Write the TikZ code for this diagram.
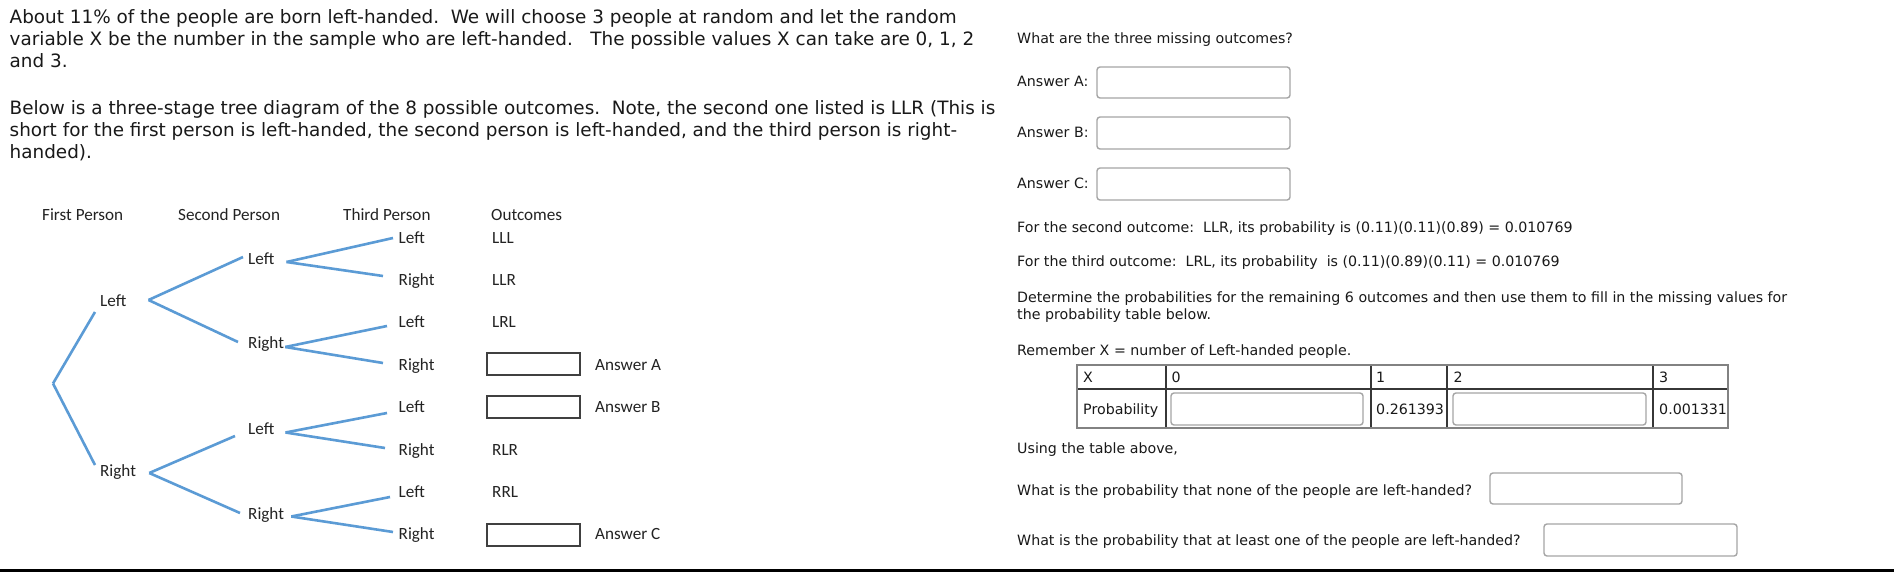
\documentclass[tikz,border=0pt]{standalone}
\usepackage{fontspec}
\setmainfont{DejaVu Sans}
\newfontfamily\treefont{Carlito}
\newfontfamily\webfont{DejaVu Sans}
\usetikzlibrary{calc}
\definecolor{branchblue}{RGB}{91,155,213}
\definecolor{txt}{RGB}{25,25,25}
\definecolor{treetxt}{RGB}{35,35,35}
\definecolor{fieldgray}{RGB}{165,165,165}
\definecolor{tabout}{RGB}{130,130,130}
\definecolor{tabin}{RGB}{55,55,55}
\newlength\calw
\newcommand\fitfont[4]{\settowidth\calw{#2\fontsize{10pt}{12pt}\selectfont #4}\pgfmathsetmacro#1{10*#3/\calw}}
\newcommand\txtLineA{About 11\% of the people are born left-handed.\ \ We will choose 3 people at random and let the random}
\newcommand\txtDet{Determine the probabilities for the remaining 6 outcomes and then use them to fill in the missing values for}
\begin{document}
\fitfont\szTop{\rmfamily}{947}{\txtLineA}%
\fitfont\szWeb{\webfont}{770}{\txtDet}%
\fitfont\szTree{\treefont}{81}{First Person}%
\begin{tikzpicture}[x=1pt,y=-1pt]
\tikzset{
  toptext/.style={anchor=base west, inner sep=0pt, text=txt, font=\fontsize{\szTop pt}{\szTop pt}\selectfont},
  web/.style={anchor=base west, inner sep=0pt, text=txt, font=\webfont\fontsize{\szWeb pt}{\szWeb pt}\selectfont},
  tree/.style={anchor=base west, inner sep=0pt, text=treetxt, font=\treefont\fontsize{\szTree pt}{\szTree pt}\selectfont},
  branch/.style={draw=branchblue, line width=2.6pt},
  outbox/.style={draw=black!75, line width=1.8pt, minimum width=93pt, minimum height=22pt, inner sep=0pt},
  field/.style={draw=fieldgray, line width=1.4pt, rounded corners=3pt, inner sep=0pt},
}
\useasboundingbox (0,0) rectangle (1894,572);
\fill[white] (0,0) rectangle (1894,572);

% ---------- top-left text ----------
\node[toptext] (p1) at (9.5,24) {\txtLineA};
\node[toptext] (p2) at (9.5,45.7) {variable X be the number in the sample who are left-handed.\ \ \ The possible values X can take are 0, 1, 2};
\node[toptext] (p3) at (9.5,67.4) {and 3.};
\node[toptext] (p4) at (9.5,115) {Below is a three-stage tree diagram of the 8 possible outcomes.\ \ Note, the second one listed is LLR (This is};
\node[toptext] (p5) at (9.5,136.7) {short for the first person is left-handed, the second person is left-handed, and the third person is right-};
\node[toptext] (p6) at (9.5,158.4) {handed).};

% ---------- tree headers ----------
\node[tree] (hFirst) at (42,220) {First Person};
\node[tree] (hSecond) at (178,220) {Second Person};
\node[tree] (hThird) at (343,220) {Third Person};
\node[tree] (hOut) at (491,220) {Outcomes};

% ---------- tree labels ----------
\node[tree] (aL) at (100,306.5) {Left};
\node[tree] (aR) at (100,476.5) {Right};
\node[tree] (bLL) at (248,264) {Left};
\node[tree] (bLR) at (248,348.5) {Right};
\node[tree] (bRL) at (248,434) {Left};
\node[tree] (bRR) at (248,519) {Right};
\node[tree] (c1) at (398.5,243) {Left};
\node[tree] (c2) at (398.5,285.4) {Right};
\node[tree] (c3) at (398.5,327.8) {Left};
\node[tree] (c4) at (398.5,370.2) {Right};
\node[tree] (c5) at (398.5,412.6) {Left};
\node[tree] (c6) at (398.5,455) {Right};
\node[tree] (c7) at (398.5,497.4) {Left};
\node[tree] (c8) at (398.5,539.8) {Right};

% ---------- outcomes ----------
\node[tree] (o1) at (492,243) {LLL};
\node[tree] (o2) at (492,285.4) {LLR};
\node[tree] (o3) at (492,327.8) {LRL};
\node[outbox] (boxA) at (533.5,364.2) {};
\node[outbox] (boxB) at (533.5,406.6) {};
\node[tree] (o6) at (492,455) {RLR};
\node[tree] (o7) at (492,497.4) {RRL};
\node[outbox] (boxC) at (533.5,534.8) {};
\node[tree] (ansA) at (595,370.2) {Answer A};
\node[tree] (ansB) at (595,412.6) {Answer B};
\node[tree] (ansC) at (595,539.8) {Answer C};

% ---------- branches ----------
\coordinate (root) at (53,383.5);
\coordinate (fL) at ([shift={(22,-6.5)}]aL.base east);
\coordinate (fR) at ([shift={(13,-3.5)}]aR.base east);
\coordinate (fLL) at ([shift={(12,-2)}]bLL.base east);
\coordinate (fLR) at ([shift={(1,-1.5)}]bLR.base east);
\coordinate (fRL) at ([shift={(11,-1.5)}]bRL.base east);
\coordinate (fRR) at ([shift={(7,-2.5)}]bRR.base east);

\draw[branch] (root) -- ([shift={(-5,5.5)}]aL.base west);
\draw[branch] (root) -- ([shift={(-5,-11.5)}]aR.base west);
\draw[branch] (fL) -- ([shift={(-5,-7)}]bLL.base west);
\draw[branch] (fL) -- ([shift={(-10,-6.5)}]bLR.base west);
\draw[branch] (fR) -- ([shift={(-13,2)}]bRL.base west);
\draw[branch] (fR) -- ([shift={(-8,-6)}]bRR.base west);
\draw[branch] (fLL) -- ([shift={(-5.5,-5)}]c1.base west);
\draw[branch] (fLL) -- ([shift={(-15.5,-9.4)}]c2.base west);
\draw[branch] (fLR) -- ([shift={(-11.5,-1.8)}]c3.base west);
\draw[branch] (fLR) -- ([shift={(-15.5,-7.2)}]c4.base west);
\draw[branch] (fRL) -- ([shift={(-11.5,0.4)}]c5.base west);
\draw[branch] (fRL) -- ([shift={(-13.5,-7)}]c6.base west);
\draw[branch] (fRR) -- ([shift={(-8.5,-0.4)}]c7.base west);
\draw[branch] (fRR) -- ([shift={(-5.5,-7.8)}]c8.base west);

% ---------- right side ----------
\node[web] (qMiss) at (1017,44) {What are the three missing outcomes?};
\node[web] (lA) at (1017,87) {Answer A:};
\node[web] (lB) at (1017,138) {Answer B:};
\node[web] (lC) at (1017,189) {Answer C:};
\node[field, minimum width=193pt, minimum height=31pt] (inA) at (1193.5,82.5) {};
\node[field, minimum width=193pt, minimum height=32pt] (inB) at (1193.5,133) {};
\node[field, minimum width=193pt, minimum height=32pt] (inC) at (1193.5,184) {};

\node[web] (tSecond) at (1017,232) {For the second outcome:\ \ LLR, its probability is (0.11)(0.11)(0.89) = 0.010769};
\node[web] (tThird) at (1017,266) {For the third outcome:\ \ LRL, its probability\ \ is (0.11)(0.89)(0.11) = 0.010769};
\node[web] (tDet1) at (1017,302) {\txtDet};
\node[web] (tDet2) at (1017,319) {the probability table below.};
\node[web] (tRem) at (1017,355) {Remember X = number of Left-handed people.};

% table
\draw[tabin, line width=1.2pt] (1077,389) -- (1728,389);
\foreach \cx in {1166,1371,1447,1653} \draw[tabin, line width=1.2pt] (\cx,365) -- (\cx,428);
\draw[tabout, line width=1.2pt] (1077,365) rectangle (1728,428);
\node[web] (tX) at (1083,382) {X};
\node[web] (t0) at (1171.5,382) {0};
\node[web] (t1) at (1376,382) {1};
\node[web] (t2) at (1453.5,382) {2};
\node[web] (t3) at (1659,382) {3};
\node[web] (tProb) at (1083,414) {Probability};
\node[web] (t1v) at (1376,414) {0.261393};
\node[web] (t3v) at (1659,414) {0.001331};
\node[field, minimum width=192pt, minimum height=32pt] (in0) at (1267,409) {};
\node[field, minimum width=193pt, minimum height=32pt] (in2) at (1549.5,409) {};

\node[web] (tUsing) at (1017,453) {Using the table above,};
\node[web] (tNone) at (1017,495) {What is the probability that none of the people are left-handed?};
\node[field, minimum width=192pt, minimum height=31pt] (inNone) at (1586,488.5) {};
\node[web] (tLeast) at (1017,545) {What is the probability that at least one of the people are left-handed?};
\node[field, minimum width=193pt, minimum height=32pt] (inLeast) at (1640.5,540) {};

% bottom bar
\fill[black] (0,569) rectangle (1894,572);
\end{tikzpicture}
\end{document}
